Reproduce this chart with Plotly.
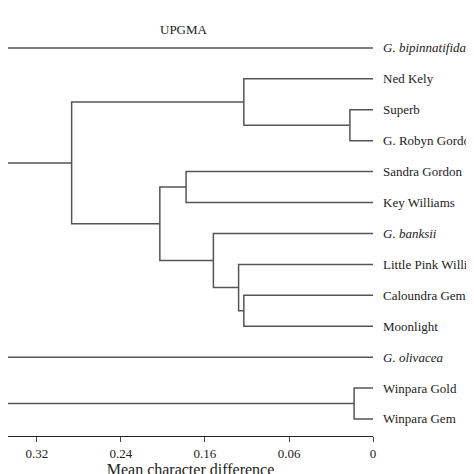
import plotly.graph_objects as go

leaves = ["<i>G. bipinnatifida</i>", "Ned Kely", "Superb", "G. Robyn Gordon", "Sandra Gordon",
          "Key Williams", "<i>G. banksii</i>", "Little Pink Willi", "Caloundra Gem", "Moonlight",
          "<i>G. olivacea</i>", "Winpara Gold", "Winpara Gem"]
# merges: (name, child1, child2, height)
merges = [
    ("SR", 2, 3, 0.022),
    ("A", 1, "SR", 0.123),
    ("SK", 4, 5, 0.178),
    ("CM", 8, 9, 0.123),
    ("LCM", 7, "CM", 0.128),
    ("BLCM", 6, "LCM", 0.152),
    ("B", "SK", "BLCM", 0.203),
    ("AB", "A", "B", 0.287),
    ("W", 11, 12, 0.018),
]
outgroup_leaves = [0, 10]   # lines across full width
open_ends = ["AB", "W"]     # roots extend to left edge
tick_vals = [0.32, 0.24, 0.16, 0.08, 0]
tick_text = ["0.32", "0.24", "0.16", "0.06", "0"]
x_left = 0.3476

pos = {i: (0.0, float(i)) for i in range(len(leaves))}
xs, ys = [], []
for name, a, b, h in merges:
    xa, ya = pos[a]; xb, yb = pos[b]
    xs += [xa, h, h, xb, None]; ys += [ya, ya, yb, yb, None]
    pos[name] = (h, (ya + yb) / 2)
for name in open_ends:
    x, y = pos[name]
    xs += [x, x_left, None]; ys += [y, y, None]
for i in outgroup_leaves:
    xs += [0, x_left, None]; ys += [i, i, None]

fig = go.Figure(go.Scatter(x=xs, y=ys, mode="lines", line=dict(color="#555", width=1.5),
                           hoverinfo="skip", showlegend=False, cliponaxis=False))
for i, lab in enumerate(leaves):
    fig.add_annotation(x=0, y=i, text=lab, xanchor="left", xshift=8, showarrow=False,
                       font=dict(family="Liberation Serif", size=13, color="#222"))
fig.add_annotation(x=0.18, y=-0.6, text="UPGMA", showarrow=False,
                   font=dict(family="Liberation Serif", size=13, color="#222"))
fig.update_layout(
    width=474, height=474, margin=dict(l=0, r=109, t=9, b=46, autoexpand=False),
    plot_bgcolor="white", paper_bgcolor="white",
    font=dict(family="Liberation Serif", size=13, color="#222"),
    xaxis=dict(range=[x_left, 0], tickvals=tick_vals, ticktext=tick_text, showgrid=False,
               zeroline=False, showline=True, linecolor="#222", ticks="outside", ticklen=5,
               automargin=False, title=dict(text="Mean character difference", standoff=2)),
    yaxis=dict(range=[12.55, -1], visible=False, showgrid=False, zeroline=False),
)
fig.write_html("out.html")
